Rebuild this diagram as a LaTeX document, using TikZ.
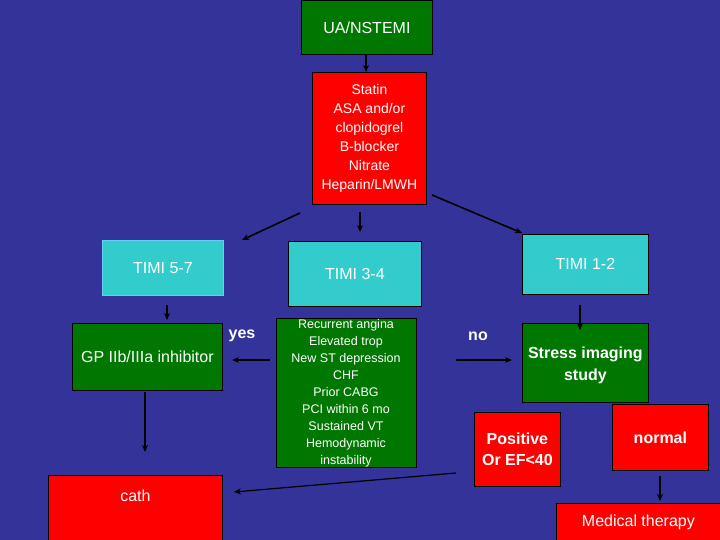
\documentclass[tikz,border=0pt]{standalone}
\usepackage{fontspec}
\setmainfont{Liberation Sans}
\usetikzlibrary{arrows.meta}
\definecolor{bg}{HTML}{333399}
\definecolor{gbox}{HTML}{007700}
\definecolor{rbox}{HTML}{FF0000}
\definecolor{cbox}{HTML}{33CCCC}
\begin{document}
\begin{tikzpicture}[x=1pt,y=-1pt,
  box/.style={draw=black,line width=0.8pt,anchor=north west,text=white,align=center,inner sep=0pt},
  arr/.style={draw=black,line width=1.6pt,-{Stealth[length=7pt,width=6pt]}},
  big/.style={font=\fontsize{16}{19}\selectfont},
  mid/.style={font=\fontsize{14}{19}\selectfont},
  small/.style={font=\fontsize{12.5}{17}\selectfont},
  lbl/.style={text=white,font=\fontsize{16}{19}\selectfont\bfseries}]
\fill[bg] (0,0) rectangle (720,540);
\useasboundingbox (0,0) rectangle (720,540);
\node[box,fill=gbox,big,minimum width=131,minimum height=54] (ua) at (301,0) {UA/NSTEMI};
\node[box,fill=rbox,mid,minimum width=114,minimum height=132] (st) at (312,72) {Statin\\ASA and/or\\clopidogrel\\B-blocker\\Nitrate\\Heparin/LMWH};
\node[box,fill=cbox,draw=cyan!60!white,big,minimum width=121,minimum height=55] (t57) at (102,240) {TIMI 5-7};
\node[box,fill=cbox,big,minimum width=133,minimum height=65] (t34) at (288,241) {TIMI 3-4};
\node[box,fill=cbox,big,minimum width=126,minimum height=60] (t12) at (522,234) {TIMI 1-2};
\node[box,fill=gbox,big,minimum width=150,minimum height=67] (gp) at (72,323) {GP IIb/IIIa inhibitor};
\node[box,fill=gbox,small,minimum width=140,minimum height=149,anchor=north] (ra) at (346,318) {Recurrent angina\\Elevated trop\\New ST depression\\CHF\\Prior CABG\\PCI within 6 mo\\Sustained VT\\Hemodynamic\\instability};
\node[box,fill=gbox,big,font=\fontsize{16}{22}\selectfont\bfseries,minimum width=126,minimum height=79] (si) at (522,323) {\mbox{}\\[-6pt]Stress imaging\\study};
\node[box,fill=rbox,font=\fontsize{16}{21}\selectfont\bfseries,minimum width=86,minimum height=74] (pos) at (474,412) {Positive\\Or EF<40};
\node[box,fill=rbox,font=\fontsize{16}{19}\selectfont\bfseries,minimum width=96,minimum height=66] (nor) at (612,404) {normal};
\node[box,fill=rbox,big,minimum width=174,minimum height=66] (cath) at (48,475) {cath\\[6pt]\mbox{}};
\node[box,fill=rbox,big,minimum width=164,minimum height=38] (med) at (556,503) {Medical therapy};
\node[lbl] (yes) at (242,336) {yes};
\node[lbl] (no) at (478,336) {no};
% free arrow ends
\coordinate (u1) at (366,54); \coordinate (u2) at (366,72);
\coordinate (a1) at (300,213); \coordinate (a2) at (242,240);
\coordinate (b1) at (432,195); \coordinate (b2) at (522,233);
\coordinate (c1) at (360,212); \coordinate (c2) at (360,232);
\coordinate (d1) at (167,305); \coordinate (d2) at (167,320);
\coordinate (e1) at (580,305); \coordinate (e2) at (580,330);
\coordinate (f1) at (145,392); \coordinate (f2) at (145,452);
\coordinate (g1) at (456,473); \coordinate (g2) at (234,492);
\coordinate (h1) at (270,360); \coordinate (h2) at (232,360);
\coordinate (i1) at (456,360); \coordinate (i2) at (512,360);
\coordinate (j1) at (660,476); \coordinate (j2) at (660,501);
\draw[arr] (u1) -- (u2);
\draw[arr] (a1) -- (a2);
\draw[arr] (b1) -- (b2);
\draw[arr,line width=1.2pt] (c1) -- (c2);
\draw[arr,line width=1.2pt] (d1) -- (d2);
\draw[arr,line width=1.2pt] (e1) -- (e2);
\draw[arr,line width=1.2pt] (f1) -- (f2);
\draw[arr,line width=1.2pt] (g1) -- (g2);
\draw[arr,line width=1.2pt] (h1) -- (h2);
\draw[arr,line width=1.2pt] (i1) -- (i2);
\draw[arr,line width=1.2pt] (j1) -- (j2);
\end{tikzpicture}
\end{document}
